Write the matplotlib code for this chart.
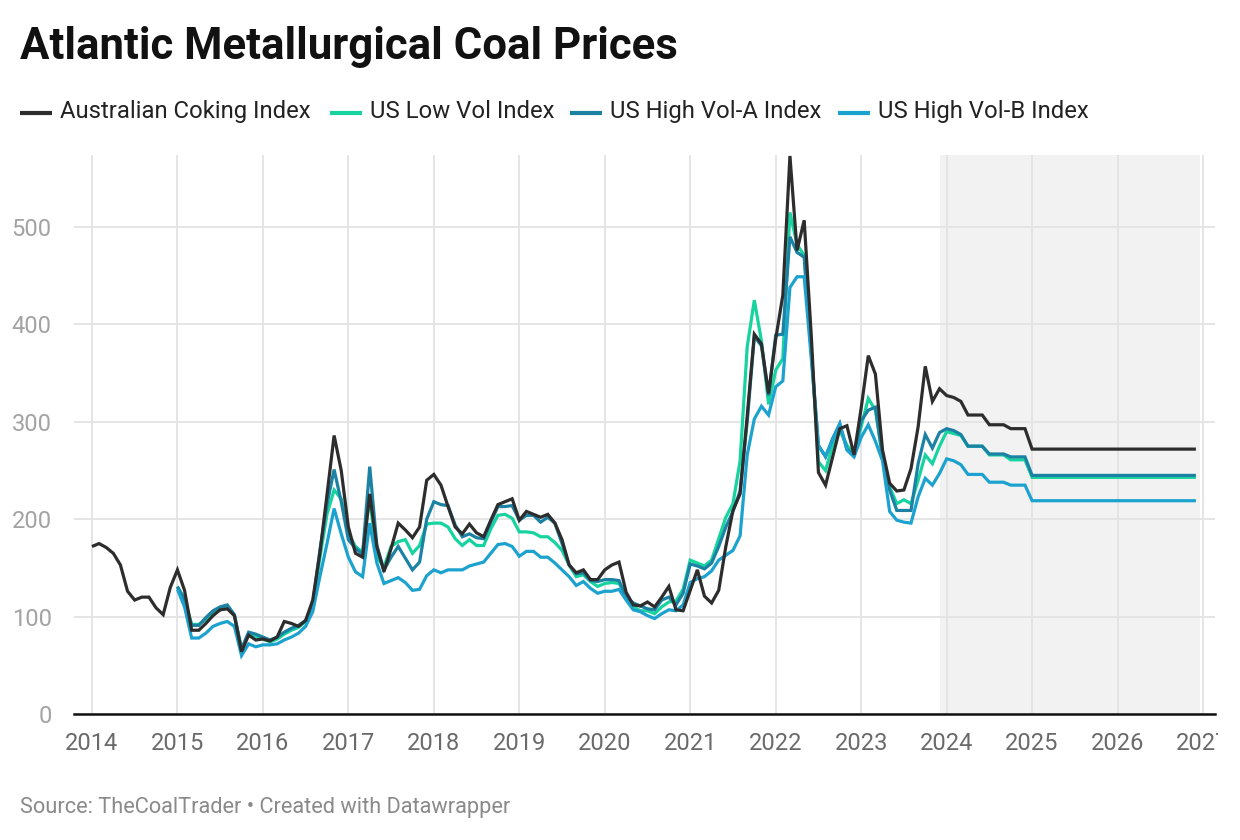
import numpy as np
import pandas as pd
import matplotlib
matplotlib.use("Agg")
import matplotlib.pyplot as plt
from matplotlib.lines import Line2D
from matplotlib.transforms import Bbox, TransformedBbox

# ---------------- data (monthly, Jan 2014 - Dec 2026) ----------------
series_names = ["Australian Coking Index", "US Low Vol Index",
                "US High Vol-A Index", "US High Vol-B Index"]

aus = [
    172, 175, 171, 165, 153, 126, 117, 120, 120, 109, 102, 130,   # 2014
    148, 127, 86, 86, 93, 101, 107, 108, 101, 64, 81, 76,         # 2015
    77, 75, 79, 95, 93, 90, 96, 117, 165, 225, 286, 250,          # 2016
    192, 165, 161, 226, 172, 146, 170, 196, 189, 181, 192, 240,   # 2017
    246, 235, 213, 192, 185, 195, 186, 182, 199, 215, 218, 221,   # 2018
    199, 208, 205, 202, 205, 196, 179, 153, 145, 148, 138, 138,   # 2019
    148, 153, 156, 125, 112, 111, 115, 110, 120, 131, 107, 106,   # 2020
    127, 148, 121, 114, 127, 172, 209, 226, 306, 390, 380, 329,   # 2021
    385, 430, 573, 476, 507, 388, 248, 235, 264, 293, 296, 266,   # 2022
    314, 368, 349, 271, 237, 229, 230, 252, 295, 357, 321, 334,   # 2023
    327, 325, 321, 307, 307, 307, 297, 297, 297, 293, 293, 293,   # 2024
    272, 272, 272, 272, 272, 272, 272, 272, 272, 272, 272, 272,   # 2025
    272, 272, 272, 272, 272, 272, 272, 272, 272, 272, 272, 272,   # 2026
]

low_vol = [None] * 12 + [
    130, 119, 92, 92, 97, 103, 107, 110, 101, 66, 83, 80,         # 2015
    77, 74, 77, 82, 86, 89, 95, 112, 160, 205, 230, 221,          # 2016
    185, 172, 166, 222, 161, 151, 172, 177, 179, 165, 173, 195,   # 2017
    196, 196, 192, 180, 173, 179, 173, 173, 190, 204, 205, 201,   # 2018
    187, 187, 186, 182, 182, 176, 168, 153, 141, 143, 136, 131,   # 2019
    134, 135, 134, 122, 110, 106, 106, 103, 110, 115, 116, 128,   # 2020
    158, 155, 152, 158, 180, 202, 216, 260, 377, 425, 383, 318,   # 2021
    353, 365, 515, 482, 471, 375, 259, 250, 276, 291, 276, 266,   # 2022
    295, 324, 312, 264, 233, 216, 220, 216, 240, 266, 257, 275,   # 2023
    290, 288, 286, 275, 275, 275, 266, 266, 266, 261, 261, 261,   # 2024
    243, 243, 243, 243, 243, 243, 243, 243, 243, 243, 243, 243,   # 2025
    243, 243, 243, 243, 243, 243, 243, 243, 243, 243, 243, 243,   # 2026
]

high_vol_a = [None] * 12 + [
    131, 117, 91, 91, 99, 106, 110, 112, 102, 67, 84, 82,         # 2015
    79, 76, 79, 84, 88, 91, 96, 113, 168, 215, 251, 218,          # 2016
    179, 170, 164, 254, 173, 148, 161, 172, 160, 148, 156, 200,   # 2017
    218, 215, 214, 194, 182, 185, 181, 180, 197, 213, 213, 214,   # 2018
    199, 204, 204, 197, 202, 196, 175, 153, 144, 145, 137, 136,   # 2019
    138, 138, 137, 120, 114, 111, 108, 107, 117, 120, 112, 124,   # 2020
    154, 152, 149, 155, 172, 192, 208, 229, 300, 388, 378, 327,   # 2021
    389, 390, 490, 474, 469, 370, 276, 264, 283, 298, 272, 266,   # 2022
    301, 312, 315, 264, 230, 209, 209, 209, 257, 287, 273, 289,   # 2023
    293, 291, 287, 275, 275, 275, 267, 267, 267, 264, 264, 264,   # 2024
    245, 245, 245, 245, 245, 245, 245, 245, 245, 245, 245, 245,   # 2025
    245, 245, 245, 245, 245, 245, 245, 245, 245, 245, 245, 245,   # 2026
]

high_vol_b = [None] * 12 + [
    128, 110, 78, 78, 83, 90, 93, 95, 90, 60, 72, 69,             # 2015
    71, 71, 72, 76, 79, 83, 90, 105, 141, 175, 211, 185,          # 2016
    161, 146, 141, 196, 155, 134, 137, 140, 135, 127, 128, 142,   # 2017
    148, 145, 148, 148, 148, 152, 154, 156, 165, 174, 175, 172,   # 2018
    162, 167, 167, 161, 161, 155, 148, 141, 132, 136, 129, 124,   # 2019
    126, 126, 128, 117, 107, 105, 101, 98, 103, 107, 106, 112,    # 2020
    135, 139, 141, 147, 158, 163, 168, 183, 266, 303, 316, 307,   # 2021
    336, 342, 438, 449, 449, 365, 275, 265, 281, 298, 271, 264,   # 2022
    284, 297, 280, 260, 208, 199, 197, 196, 223, 242, 235, 247,   # 2023
    262, 260, 256, 246, 246, 246, 238, 238, 238, 235, 235, 235,   # 2024
    219, 219, 219, 219, 219, 219, 219, 219, 219, 219, 219, 219,   # 2025
    219, 219, 219, 219, 219, 219, 219, 219, 219, 219, 219, 219,   # 2026
]

year_ticks = list(range(2014, 2028))
y_ticks = [0, 100, 200, 300, 400, 500]
forecast_start = 2023.92
forecast_end = 2026.96

# ---------------- styling ----------------
colors = ["#2d2d2d", "#16d3a0", "#1b82a4", "#1ca2cf"]
zorders = [6, 3, 4, 5]

dates = pd.date_range("2014-01-01", periods=len(aus), freq="MS")
xdec = dates.year + (dates.month - 1) / 12.0

plt.rcParams["font.family"] = ["Roboto", "DejaVu Sans"]

fig = plt.figure(figsize=(12.4, 8.4), dpi=100)
ax = fig.add_axes([74 / 1240, 1 - 714 / 840, (1215 - 74) / 1240, (714 - 155) / 840])

ax.axvspan(forecast_start, forecast_end, color="#f2f2f2", zorder=0, lw=0)

for vals, c, z in zip([aus, low_vol, high_vol_a, high_vol_b], colors, zorders):
    arr = np.array([np.nan if v is None else v for v in vals], dtype=float)
    ax.plot(xdec, arr, color=c, lw=2.3, zorder=z, solid_joinstyle="miter",
            solid_capstyle="butt")

ax.set_xlim(2013.79, 2027.14)
ax.set_ylim(0, 574)
ax.set_xticks(year_ticks)
ax.set_xticklabels([str(y) for y in year_ticks])
ax.set_yticks(y_ticks)
ax.set_yticklabels([str(v) for v in y_ticks])

ax.grid(True, color="#e3e3e3", lw=1.3, zorder=1)
ax.set_axisbelow(True)
for s in ["top", "right", "left"]:
    ax.spines[s].set_visible(False)
ax.spines["bottom"].set_color("#111111")
ax.spines["bottom"].set_linewidth(1.8)
ax.spines["bottom"].set_zorder(7)

ax.tick_params(axis="x", length=0, pad=13, labelsize=17, labelcolor="#6a6a6a")
ax.tick_params(axis="y", length=0, pad=16, labelsize=17, labelcolor="#a3a3a3")
for lab in ax.get_yticklabels():
    lab.set_horizontalalignment("right")

# clip the last x label as in the reference
clip = TransformedBbox(Bbox([[0, 0], [1218 / 1240, 1]]), fig.transFigure)
xl = ax.get_xticklabels()
xl[-1].set_clip_box(clip)
xl[-1].set_clip_on(True)

# ---------------- title, legend, footer ----------------
fig.text(20 / 1240, 1 - 47 / 840, "Atlantic Metallurgical Coal Prices",
         fontsize=31.5, fontweight="bold", color="#111111", va="center", ha="left")

leg_x = [20, 330, 570, 838]
for name, c, x0 in zip(series_names, colors, leg_x):
    y = 1 - 113 / 840
    fig.add_artist(Line2D([x0 / 1240, (x0 + 32) / 1240], [y, y], color=c, lw=3,
                          transform=fig.transFigure, solid_capstyle="butt"))
    fig.text((x0 + 40) / 1240, y + 1.5 / 840, name, fontsize=17.2, color="#222222",
             va="center", ha="left")

fig.text(20 / 1240, 1 - 808 / 840, "Source: TheCoalTrader \u2022 Created with Datawrapper",
         fontsize=15.7, color="#8a8a8a", va="center", ha="left")

fig.savefig("out.png", dpi=100)
